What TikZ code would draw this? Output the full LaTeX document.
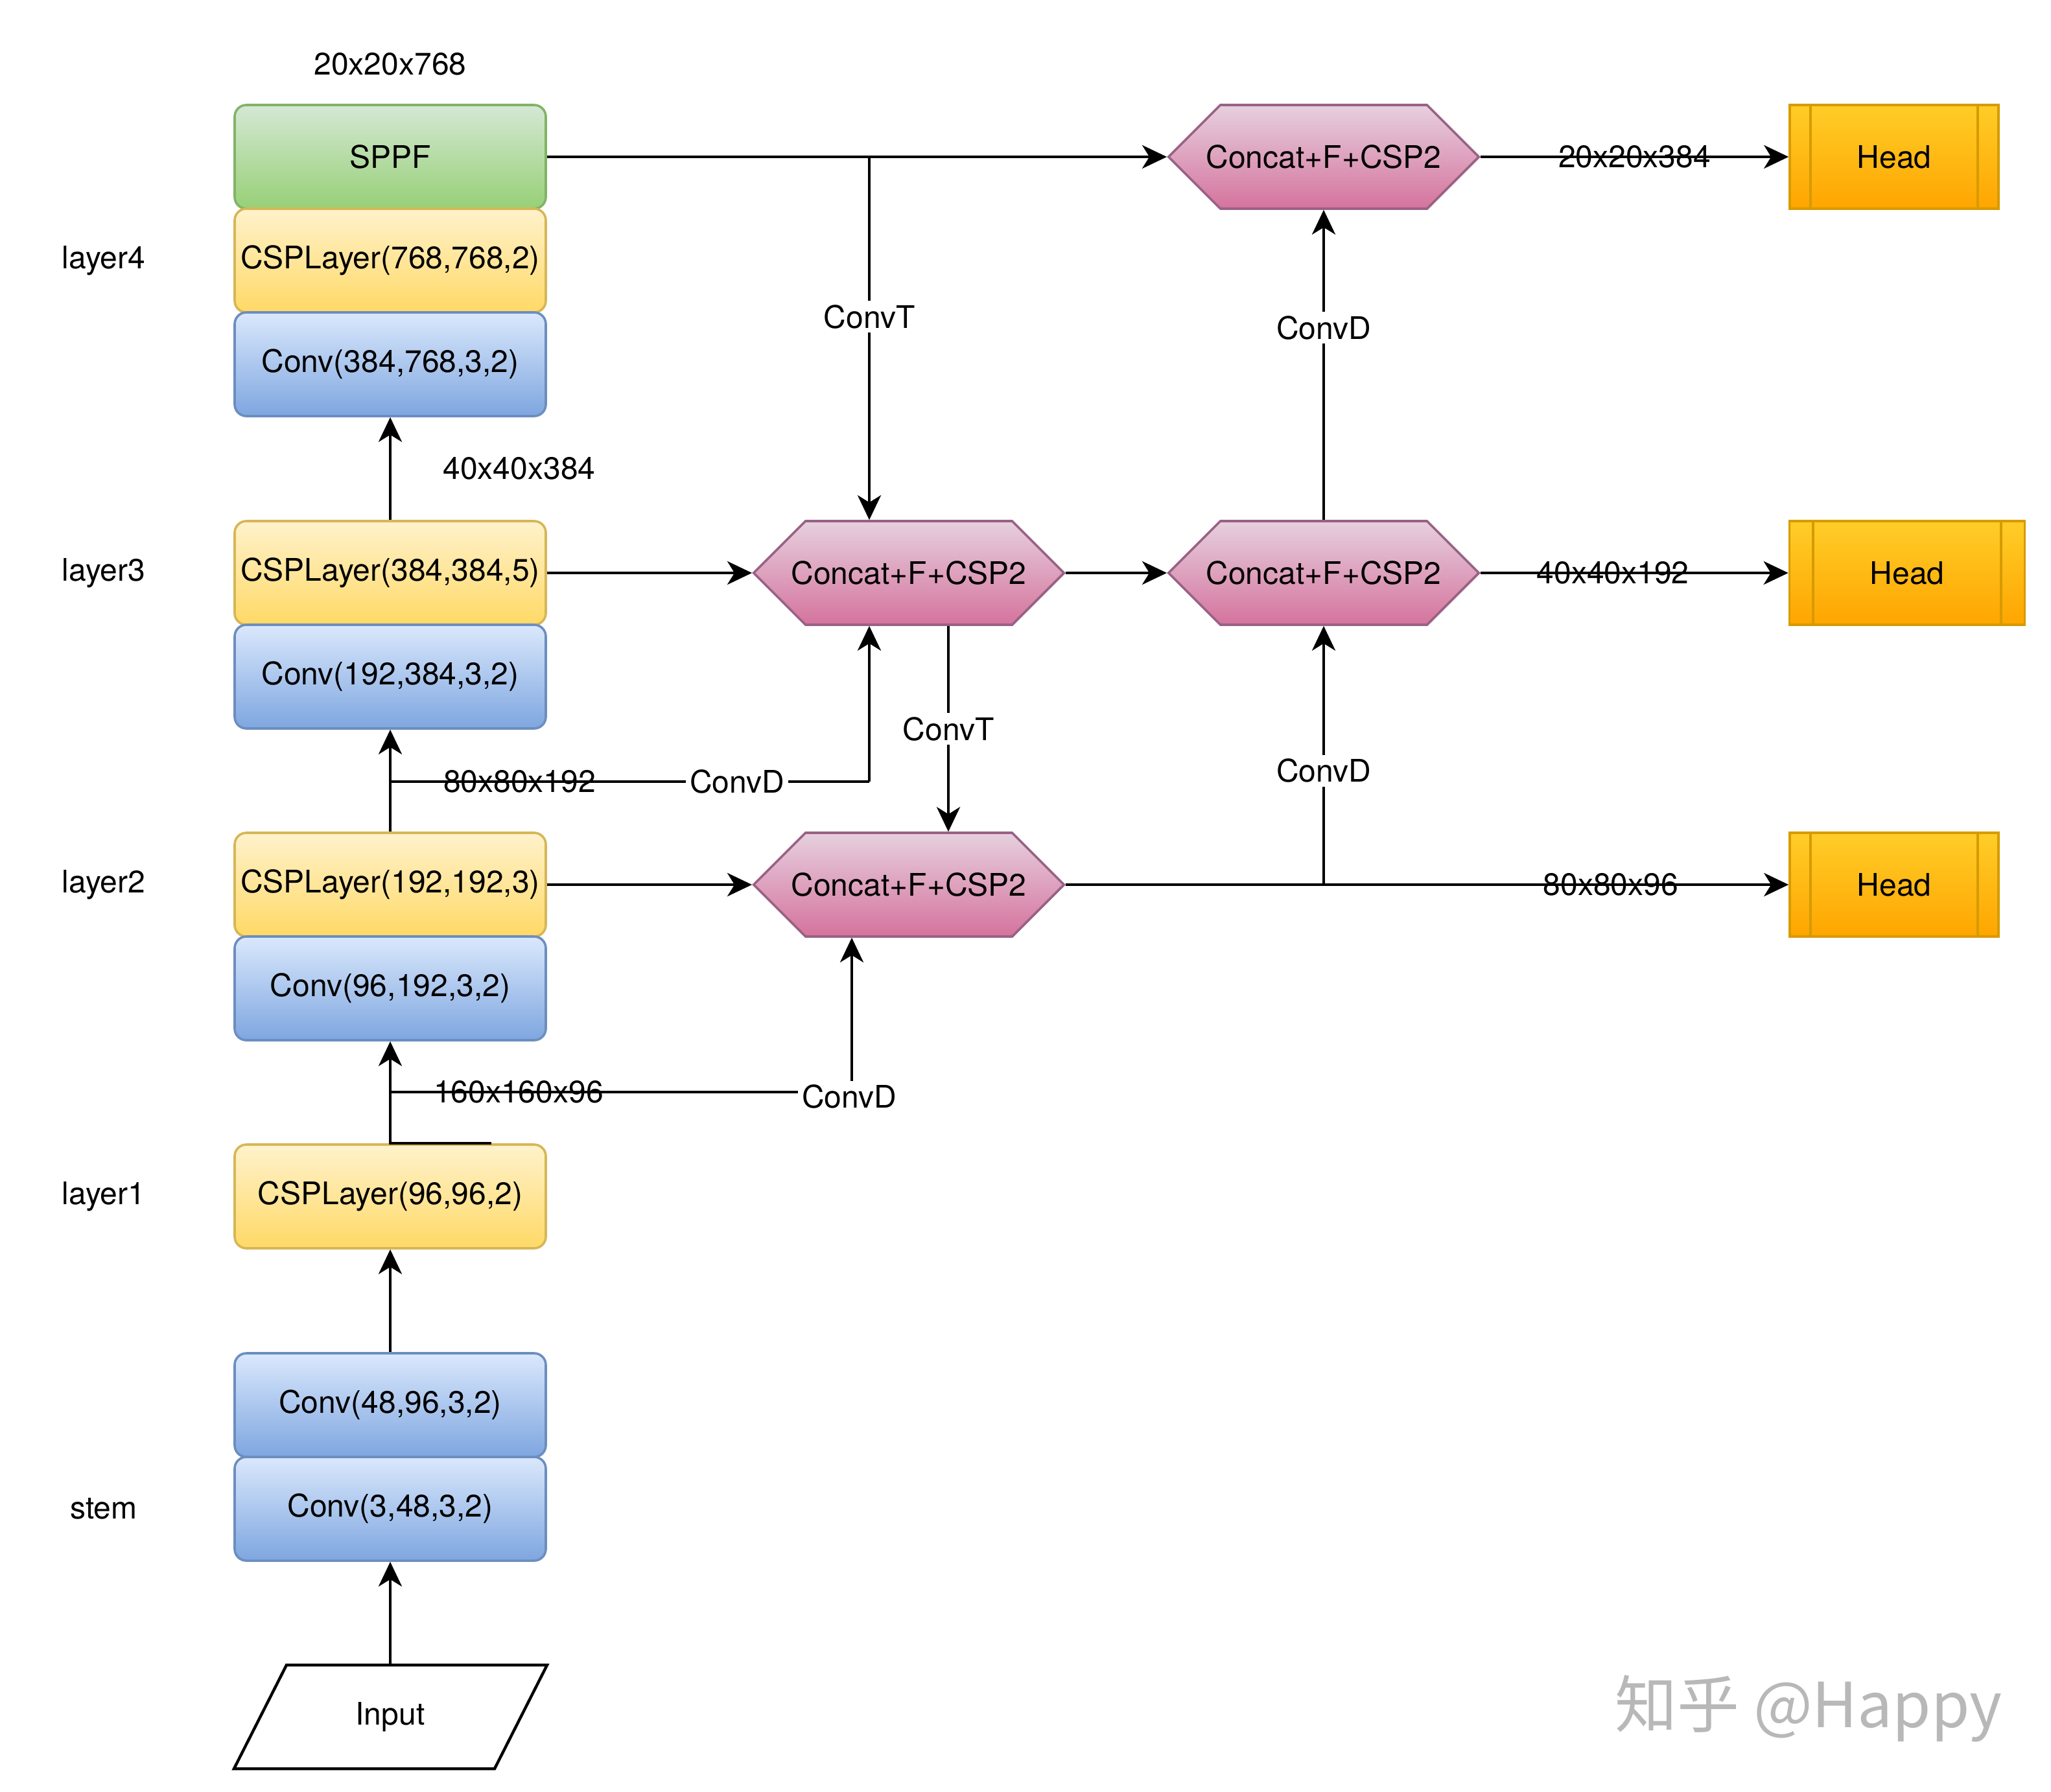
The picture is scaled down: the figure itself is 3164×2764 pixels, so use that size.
\documentclass[tikz,border=0pt]{standalone}
\usepackage{fontspec}
\setmainfont{TeX Gyre Heros}
\newfontfamily\cjkfont{Noto Sans CJK SC}
\usetikzlibrary{shapes.symbols,arrows.meta,calc}

\definecolor{sppftop}{HTML}{D5E8D4}
\definecolor{sppfbot}{HTML}{97D077}
\definecolor{sppfline}{HTML}{82B366}
\definecolor{csptop}{HTML}{FFF2CC}
\definecolor{cspbot}{HTML}{FFD966}
\definecolor{cspline}{HTML}{D6B656}
\definecolor{convtop}{HTML}{DAE8FC}
\definecolor{convbot}{HTML}{7EA6E0}
\definecolor{convline}{HTML}{6C8EBF}
\definecolor{hextop}{HTML}{E6D0DE}
\definecolor{hexbot}{HTML}{D5739D}
\definecolor{hexline}{HTML}{996185}
\definecolor{headtop}{HTML}{FFCD28}
\definecolor{headbot}{HTML}{FFA500}
\definecolor{headline}{HTML}{D79B00}

\tikzset{
  every node/.style={font=\fontsize{12}{14}\selectfont},
  blk/.style={draw, line width=0.9pt, rounded corners=4.5pt,
    minimum width=120pt, minimum height=40pt, inner sep=1pt},
  sppfbox/.style={blk, draw=sppfline, top color=sppftop, bottom color=sppfbot},
  cspbox/.style={blk, draw=cspline, top color=csptop, bottom color=cspbot},
  convbox/.style={blk, draw=convline, top color=convtop, bottom color=convbot},
  hexbox/.style={signal, signal to=east and west, draw=hexline, line width=0.9pt,
    top color=hextop, bottom color=hexbot,
    minimum height=40pt, inner ysep=1pt, inner xsep=-5.5pt},
  headbox/.style={draw=headline, line width=0.9pt, top color=headtop, bottom color=headbot,
    minimum height=40pt, inner sep=1pt,
    path picture={
      \draw[headline, line width=0.9pt]
        ($(path picture bounding box.south west)!0.1!(path picture bounding box.south east)$) --
        ($(path picture bounding box.north west)!0.1!(path picture bounding box.north east)$);
      \draw[headline, line width=0.9pt]
        ($(path picture bounding box.south west)!0.9!(path picture bounding box.south east)$) --
        ($(path picture bounding box.north west)!0.9!(path picture bounding box.north east)$);
    }},
  wire/.style={line width=1.1pt},
  arr/.style={wire, -{Stealth[length=9.5pt, width=9pt, inset=2.75pt]}},
  lbl/.style={fill=white, inner sep=1.5pt},
  dim/.style={inner sep=1pt}
}

\begin{document}
\begin{tikzpicture}[x=0.25pt, y=-0.25pt]
  \useasboundingbox (0,0) rectangle (3164,2764);

  % backbone
  \node[sppfbox] (sppf) at (602,242) {SPPF};
  \node[cspbox] (csp4) at (602,402) {CSPLayer(768,768,2)};
  \node[convbox] (conv4) at (602,562) {Conv(384,768,3,2)};
  \node[cspbox] (csp3) at (602,884) {CSPLayer(384,384,5)};
  \node[convbox] (conv3) at (602,1044) {Conv(192,384,3,2)};
  \node[cspbox] (csp2) at (602,1365) {CSPLayer(192,192,3)};
  \node[convbox] (conv2) at (602,1525) {Conv(96,192,3,2)};
  \node[cspbox] (csp1) at (602,1846) {CSPLayer(96,96,2)};
  \node[convbox] (stemb) at (602,2168) {Conv(48,96,3,2)};
  \node[convbox] (stema) at (602,2328) {Conv(3,48,3,2)};
  \node[minimum width=100.5pt, minimum height=40pt] (input) at (602,2649) {Input};
  \draw[line width=1.1pt] (442,2569) -- (844,2569) -- (763,2729) -- (361,2729) -- cycle;

  % stage names
  \node (lay4) at (160,402) {layer4};
  \node (lay3) at (160,884) {layer3};
  \node (lay2) at (160,1365) {layer2};
  \node (lay1) at (160,1846) {layer1};
  \node (laystem) at (160,2328) {stem};
  \node (dimsppf) at (602,99) {20x20x768};

  % neck
  \node[hexbox] (h4) at (2042,242) {Concat+F+CSP2};
  \node[hexbox] (h3a) at (1402,884) {Concat+F+CSP2};
  \node[hexbox] (h3b) at (2042,884) {Concat+F+CSP2};
  \node[hexbox] (h2) at (1402,1365) {Concat+F+CSP2};

  % heads
  \node[headbox, minimum width=80.5pt] (head4) at (2922,242) {Head};
  \node[headbox, minimum width=90.75pt] (head3) at (2942,884) {Head};
  \node[headbox, minimum width=80.5pt] (head2) at (2922,1365) {Head};

  \coordinate (t3) at (1341,242);
  \coordinate (b3) at (602,1206);
  \coordinate (c3) at (1341,1206);
  \coordinate (b2) at (602,1685);
  \coordinate (c2) at (1314,1685);

  % backbone links
  \draw[arr] (input.north) -- (stema.south);
  \draw[arr] (stemb.north) -- (csp1.south);
  \draw[arr] ($(csp1.north)+(156,0)$) -- (csp1.north) -- (conv2.south);
  \draw[arr] (csp2.north) -- (conv3.south);
  \draw[arr] (csp3.north) -- (conv4.south)
    node[midway, dim, xshift=49.75pt] {40x40x384};

  % lateral links
  \draw[arr] (sppf.east) -- (h4.west);
  \draw[arr] (t3) -- (t3 |- h3a.north) node[pos=0.44, lbl] {ConvT};
  \draw[arr] (csp3.east) -- (h3a.west);
  \draw[arr] (h3a.east) -- (h3b.west);
  \draw[arr] (csp2.east) -- (h2.west);
  \draw[wire] (b3) -- (c3) node[pos=0.27, dim] {80x80x192}
    node[pos=0.724, lbl] {ConvD};
  \draw[arr] (c3) -- (c3 |- h3a.south);
  \draw[wire] (b2) -- (c2) node[pos=0.278, dim] {160x160x96};
  \draw[arr] (c2) -- (c2 |- h2.south);
  \node[lbl] (convd2) at (1310,1692) {ConvD};
  \draw[arr] ($(h3a.south)+(61,0)$) -- ($(h2.north)+(61,0)$)
    node[midway, lbl] {ConvT};
  \draw[arr] (h3b.north) -- (h4.south) node[pos=0.62, lbl] {ConvD};
  \draw[arr] (h2.east -| h3b.south) -- (h3b.south) node[pos=0.44, lbl] {ConvD};

  % outputs
  \draw[arr] (h4.east) -- (head4.west) node[pos=0.5, dim] {20x20x384};
  \draw[arr] (h3b.east) -- (head3.west) node[pos=0.43, dim] {40x40x192};
  \draw[arr] (h2.east) -- (head2.west) node[pos=0.754, dim] {80x80x96};

  \node[text=black!28, font=\cjkfont\fontsize{24}{28}\selectfont] (mark) at (2790,2636) {知乎 @Happy};
\end{tikzpicture}
\end{document}
